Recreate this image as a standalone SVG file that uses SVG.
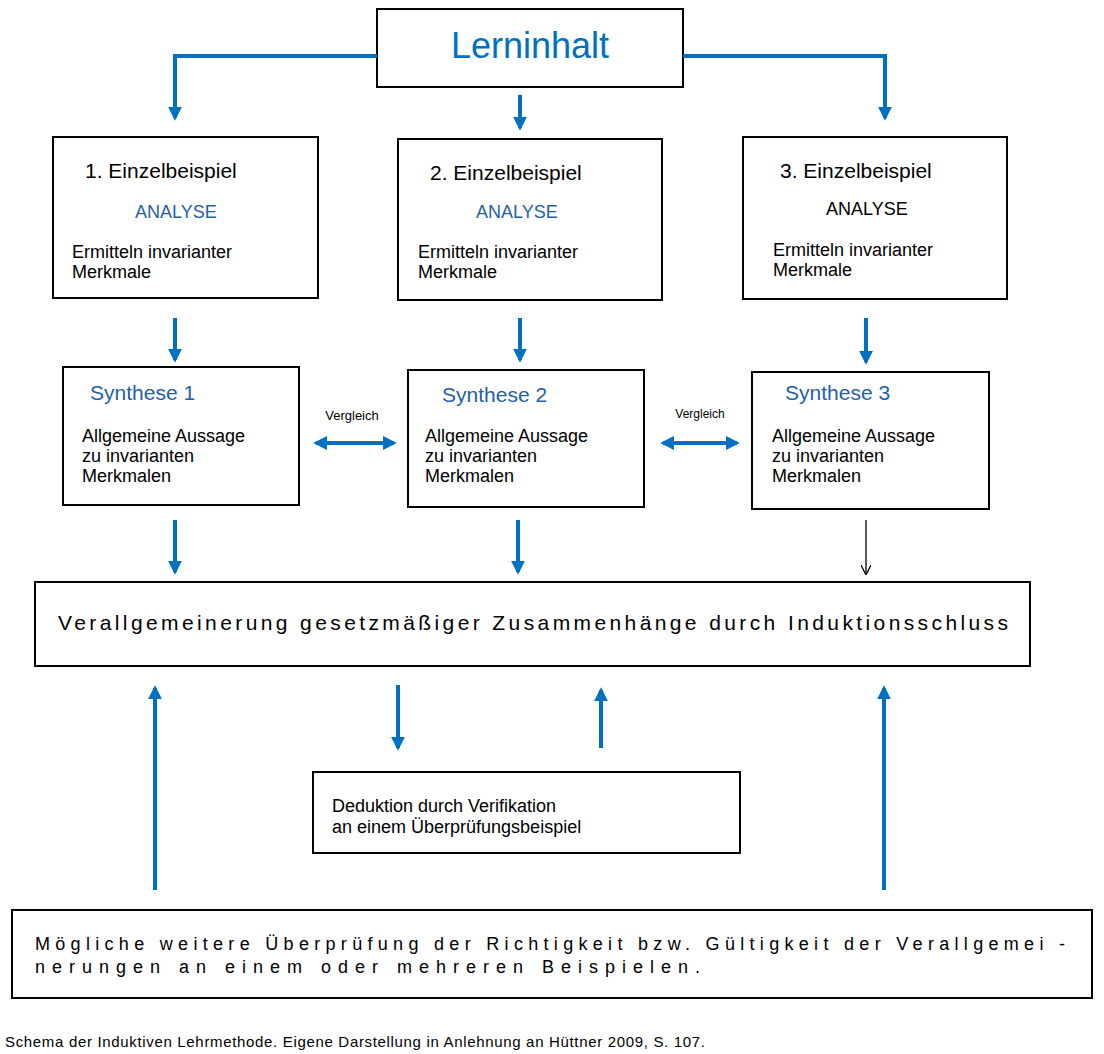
<svg xmlns="http://www.w3.org/2000/svg" width="1104" height="1054" viewBox="0 0 1104 1054">
<defs>
<marker id="ah" viewBox="0 0 10 10" refX="8" refY="5" markerWidth="3.5" markerHeight="3.5" orient="auto-start-reverse"><path d="M0,0 L10,5 L0,10 z" fill="#0070c0"/></marker>
<marker id="ak" viewBox="0 0 10 10" refX="9" refY="5" markerWidth="8" markerHeight="8" orient="auto"><path d="M0,0 L10,5 L0,10" fill="none" stroke="#000" stroke-width="1.2"/></marker>
<style>
.b{fill:#fff;stroke:#000;stroke-width:2}
.t{font-family:"Liberation Sans",Arial,sans-serif;font-size:18px;fill:#000}
.h{font-family:"Liberation Sans",Arial,sans-serif;font-size:21px;fill:#000}
.bl{fill:#1f5fa8}
.c{stroke:#0070c0;stroke-width:4;fill:none}
</style>
</defs>
<rect width="1104" height="1054" fill="#fff"/>
<g id="lerninhalt"><rect class="b" x="377" y="9" width="306" height="78"/><text x="530" y="58" text-anchor="middle" font-family="Liberation Sans,sans-serif" font-size="36" fill="#0070c0">Lerninhalt</text></g>
<g id="bsp1"><rect class="b" x="53" y="137" width="265" height="161"/><text class="h" x="85" y="178">1. Einzelbeispiel</text><text class="t bl" x="135" y="218">ANALYSE</text><text class="t" x="72" y="258">Ermitteln invarianter</text><text class="t" x="72" y="278">Merkmale</text></g>
<g id="bsp2"><rect class="b" x="398" y="139" width="264" height="161"/><text class="h" x="430" y="180">2. Einzelbeispiel</text><text class="t bl" x="476" y="218">ANALYSE</text><text class="t" x="418" y="258">Ermitteln invarianter</text><text class="t" x="418" y="278">Merkmale</text></g>
<g id="bsp3"><rect class="b" x="743" y="137" width="264" height="162"/><text class="h" x="780" y="178">3. Einzelbeispiel</text><text class="t" x="826" y="215">ANALYSE</text><text class="t" x="773" y="256">Ermitteln invarianter</text><text class="t" x="773" y="276">Merkmale</text></g>
<g id="syn1"><rect class="b" x="63" y="367" width="236" height="138"/><text class="h bl" x="90" y="400">Synthese   1</text><text class="t" x="82" y="442">Allgemeine Aussage</text><text class="t" x="82" y="462">zu invarianten</text><text class="t" x="82" y="482">Merkmalen</text></g>
<g id="syn2"><rect class="b" x="408" y="370" width="236" height="137"/><text class="h bl" x="442" y="402">Synthese   2</text><text class="t" x="425" y="442">Allgemeine Aussage</text><text class="t" x="425" y="462">zu invarianten</text><text class="t" x="425" y="482">Merkmalen</text></g>
<g id="syn3"><rect class="b" x="752" y="372" width="237" height="137"/><text class="h bl" x="785" y="400">Synthese   3</text><text class="t" x="772" y="442">Allgemeine Aussage</text><text class="t" x="772" y="462">zu invarianten</text><text class="t" x="772" y="482">Merkmalen</text></g>
<g id="verallg"><rect class="b" x="35" y="582" width="995" height="84"/><text class="h" x="58" y="630" textLength="950">Verallgemeinerung gesetzmäßiger Zusammenhänge durch Induktionsschluss</text></g>
<g id="deduktion"><rect class="b" x="313" y="772" width="427" height="81"/><text class="t" x="332" y="812">Deduktion durch Verifikation</text><text class="t" x="332" y="833">an einem Überprüfungsbeispiel</text></g>
<g id="pruefung"><rect class="b" x="12" y="910" width="1080" height="88"/><text class="t" x="35" y="950" textLength="1030">Mögliche weitere Überprüfung der Richtigkeit bzw. Gültigkeit der Verallgemei -</text><text class="t" x="35" y="973" textLength="665">nerungen an einem oder mehreren Beispielen.</text></g>
<g id="connectors">
<path class="c" d="M377,56 H175 V118" marker-end="url(#ah)"/>
<path class="c" d="M520,95 V128" marker-end="url(#ah)"/>
<path class="c" d="M683,56 H885 V118" marker-end="url(#ah)"/>
<path class="c" d="M175,318 V360" marker-end="url(#ah)"/>
<path class="c" d="M520,318 V360" marker-end="url(#ah)"/>
<path class="c" d="M866,318 V362" marker-end="url(#ah)"/>
<path class="c" d="M316,443 H394" marker-start="url(#ah)" marker-end="url(#ah)"/>
<path class="c" d="M663,443 H737" marker-start="url(#ah)" marker-end="url(#ah)"/>
<text x="352" y="420" text-anchor="middle" font-family="Liberation Sans,sans-serif" font-size="13">Vergleich</text>
<text x="700" y="418" text-anchor="middle" font-family="Liberation Sans,sans-serif" font-size="12">Vergleich</text>
<path class="c" d="M175,520 V572" marker-end="url(#ah)"/>
<path class="c" d="M518,520 V572" marker-end="url(#ah)"/>
<path d="M866,520 V574" stroke="#000" stroke-width="1.3" marker-end="url(#ak)"/>
<path class="c" d="M155,890 V688" marker-end="url(#ah)"/>
<path class="c" d="M398,685 V748" marker-end="url(#ah)"/>
<path class="c" d="M601,748 V690" marker-end="url(#ah)"/>
<path class="c" d="M884,890 V688" marker-end="url(#ah)"/>
</g>
<text x="5" y="1047" font-family="Liberation Sans,sans-serif" font-size="15" textLength="700">Schema der Induktiven Lehrmethode. Eigene Darstellung in Anlehnung an Hüttner 2009, S. 107.</text>
</svg>
